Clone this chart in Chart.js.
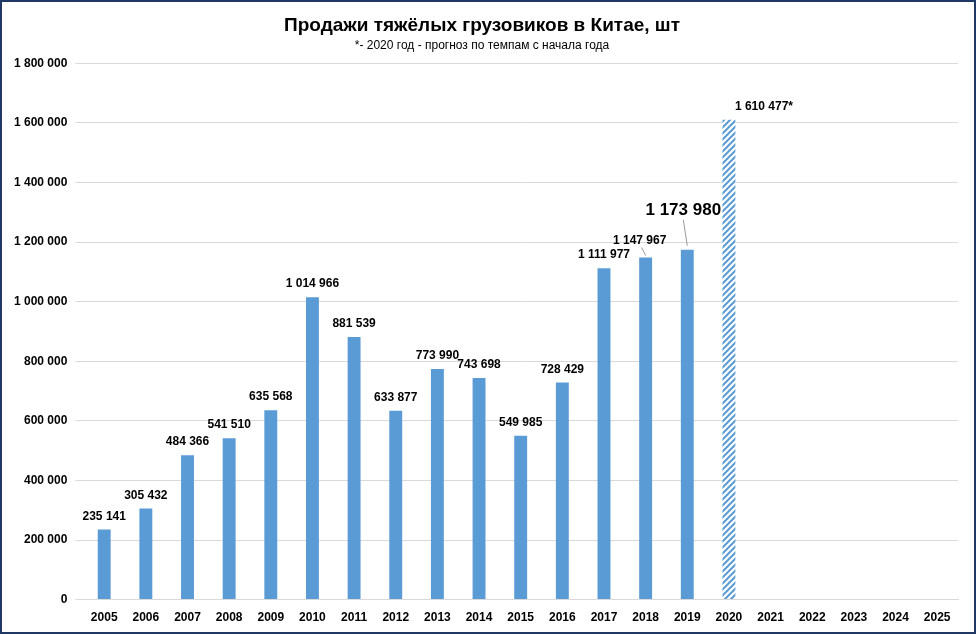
<!DOCTYPE html>
<html>
<head>
<meta charset="utf-8">
<script src="https://cdn.jsdelivr.net/npm/chart.js@4/dist/chart.umd.min.js"></script>
<style>
  html, body { margin: 0; padding: 0; background: #fff; }
  #wrap { position: absolute; left: 0; top: 0; width: 972px; height: 630px; border: 2px solid #1f3864; }
</style>
</head>
<body>
<div id="wrap"><canvas id="c" width="972" height="630"></canvas></div>
<script>
// ---------------------------
// DATA
// ---------------------------
const years = ["2005","2006","2007","2008","2009","2010","2011","2012","2013","2014","2015",
  "2016","2017","2018","2019","2020","2021","2022","2023","2024","2025"];
const sales = [235141, 305432, 484366, 541510, 635568, 1014966, 881539, 633877, 773990, 743698,
  549985, 728429, 1111977, 1147967, 1173980, 1610477, null, null, null, null, null];
const forecastIndex = 15;
const yTicks = [0, 200000, 400000, 600000, 800000, 1000000, 1200000, 1400000, 1600000, 1800000];

function fmt(v) {
  return String(v).replace(/\B(?=(\d{3})+(?!\d))/g, " ");
}

// hatch pattern for the forecast bar
function hatch() {
  let p = document.createElement("canvas");
  p.width = 6; p.height = 6;
  let g = p.getContext("2d");
  g.fillStyle = "#fff";
  g.fillRect(0, 0, 6, 6);
  g.strokeStyle = "#5b9bd5";
  g.lineWidth = 2;
  g.beginPath();
  g.moveTo(0, 6); g.lineTo(6, 0);
  g.moveTo(-3, 3); g.lineTo(3, -3);
  g.moveTo(3, 9); g.lineTo(9, 3);
  g.stroke();
  return document.getElementById("c").getContext("2d").createPattern(p, "repeat");
}

// ---------------------------
// VALUE LABELS
// ---------------------------
const labelPlugin = {
  id: "labels",
  afterDatasetsDraw(chart) {
    let ctx = chart.ctx;
    let bars = chart.getDatasetMeta(0).data;
    ctx.save();
    ctx.fillStyle = "#000";
    bars.forEach((b, i) => {
      let v = sales[i];
      if (v == null) return;
      if (i === 14) {
        ctx.font = "bold 17px 'Liberation Sans', Arial";
        ctx.textAlign = "center";
        ctx.fillText(fmt(v), b.x - 4, b.y - 35);
        ctx.strokeStyle = "#999";
        ctx.lineWidth = 1;
        ctx.beginPath();
        ctx.moveTo(b.x - 4, b.y - 30);
        ctx.lineTo(b.x, b.y - 4);
        ctx.stroke();
      } else if (i === forecastIndex) {
        ctx.font = "bold 12px 'Liberation Sans', Arial";
        ctx.textAlign = "left";
        ctx.fillText(fmt(v) + "*", b.x + 6, b.y - 10);
      } else if (i === 13) {
        ctx.font = "bold 12px 'Liberation Sans', Arial";
        ctx.textAlign = "center";
        ctx.fillText(fmt(v), b.x - 6, b.y - 14);
        ctx.strokeStyle = "#999";
        ctx.beginPath();
        ctx.moveTo(b.x - 4, b.y - 10);
        ctx.lineTo(b.x, b.y - 2);
        ctx.stroke();
      } else {
        ctx.font = "bold 12px 'Liberation Sans', Arial";
        ctx.textAlign = "center";
        ctx.fillText(fmt(v), b.x, b.y - 10);
      }
    });
    ctx.restore();
  }
};

const colors = sales.map((v, i) => i === forecastIndex ? hatch() : "#5b9bd5");

new Chart(document.getElementById("c"), {
  type: "bar",
  data: {
    labels: years,
    datasets: [{ data: sales, backgroundColor: colors, barPercentage: 0.62, categoryPercentage: 0.5 }]
  },
  options: {
    responsive: false,
    animation: false,
    layout: { padding: { left: 4, right: 16, top: 4, bottom: 4 } },
    plugins: {
      legend: { display: false },
      tooltip: { enabled: false },
      title: {
        display: true,
        text: "Продажи тяжёлых грузовиков в Китае, шт",
        color: "#000",
        font: { family: "'Liberation Sans', Arial", size: 19, weight: "bold" },
        padding: { top: 8, bottom: 2 }
      },
      subtitle: {
        display: true,
        text: "*- 2020 год - прогноз по темпам с начала года",
        color: "#000",
        font: { family: "'Liberation Sans', Arial", size: 12 },
        padding: { bottom: 10 }
      }
    },
    scales: {
      x: {
        grid: { display: false },
        border: { color: "#d9d9d9" },
        ticks: { color: "#000", font: { family: "'Liberation Sans', Arial", size: 12, weight: "bold" } }
      },
      y: {
        min: 0, max: 1800000,
        afterBuildTicks: axis => { axis.ticks = yTicks.map(v => ({ value: v })); },
        grid: { color: "#d9d9d9" },
        border: { display: false },
        ticks: {
          color: "#000",
          padding: 8,
          font: { family: "'Liberation Sans', Arial", size: 12, weight: "bold" },
          callback: v => fmt(v)
        }
      }
    }
  },
  plugins: [labelPlugin]
});
</script>
</body>
</html>
